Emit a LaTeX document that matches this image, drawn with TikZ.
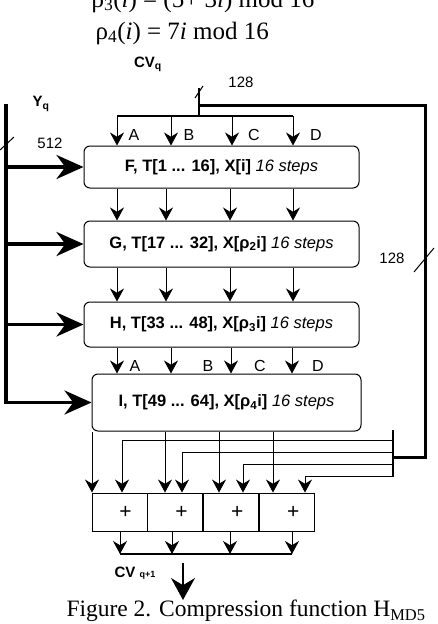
\documentclass[tikz,border=0pt]{standalone}
\usepackage{fontspec}
\setmainfont{Liberation Serif}
\setsansfont{Liberation Sans}
\usetikzlibrary{arrows.meta,positioning}

\tikzset{
    stepbox/.style={draw, line width=1pt, rounded corners=6pt, minimum width=275pt,
        inner sep=0pt, font=\sffamily\bfseries\fontsize{16.5}{18}\selectfont},
    adder/.style={draw, line width=0.9pt, minimum width=55pt, minimum height=38pt,
        inner sep=0pt, font=\sffamily\fontsize{21}{21}\selectfont},
    wire/.style={line width=0.9pt, -{Stealth[length=13pt,width=14pt]}},
    bus/.style={line width=3.5pt},
    busarrow/.style={bus, -{Stealth[length=27pt,width=24pt]}},
    wordlbl/.style={font=\sffamily\fontsize{16}{18}\selectfont},
    busnum/.style={font=\sffamily\fontsize{15}{17}\selectfont},
    cvlbl/.style={font=\sffamily\bfseries\fontsize{15}{17}\selectfont},
    formula/.style={anchor=base west, font=\fontsize{25}{27}\selectfont},
}

\begin{document}
\begin{tikzpicture}[x=1pt, y=-1pt]
    \useasboundingbox (0,0) rectangle (438,624);

    % permutation formulas, first line is cut at the top
    \node[formula] (rho3) at (88,7) {ρ\textsubscript{3}(\textit{i}) = (5+ 3\textit{i}) mod 16};
    \node[formula] (rho4) at (92,39) {ρ\textsubscript{4}(\textit{i}) = 7\textit{i} mod 16};

    % the four rounds
    \node[stepbox, minimum height=42pt] (bF) at (221.5,167)
        {F, T[1 ... 16], X[i] {\mdseries\itshape 16 steps}};
    \node[stepbox, minimum height=46pt] (bG) at (221.5,244)
        {G, T[17 ... 32], X[ρ\textsubscript{2}i] {\mdseries\itshape 16 steps}};
    \node[stepbox, minimum height=45pt] (bH) at (221.5,324.5)
        {H, T[33 ... 48], X[ρ\textsubscript{3}i] {\mdseries\itshape 16 steps}};
    \node[stepbox, minimum width=269pt, minimum height=57pt] (bI) at (226.5,402.5)
        {I, T[49 ... 64], X[ρ\textsubscript{4}i] {\mdseries\itshape 16 steps}};

    % chaining variable in
    \node[cvlbl] (cvq) at (148,64) {CV\textsubscript{q}};
    \node[busnum] (n128a) at (241,82) {128};
    \coordinate (cvin) at (199,88);
    \coordinate (fbtap) at (199,105);
    \coordinate (cvsplit) at (199,116);
    \draw[line width=2pt] (cvin) -- (cvsplit);
    \draw[line width=1pt] (195,98) -- (203,86);
    \draw[line width=1.3pt] (117,116) -- (293,116);
    \foreach \x/\l/\lx in {117/A/134,171/B/189,232/C/254,293/D/316} {
        \draw[wire] (\x,116) -- (\x,0 |- bF.north);
        \node[wordlbl] (top\l) at (\lx,135) {\l};
    }

    % between the rounds
    \foreach \x in {117,166,230,293} {
        \draw[wire] (\x,0 |- bF.south) -- (\x,0 |- bG.north);
        \draw[wire] (\x,0 |- bG.south) -- (\x,0 |- bH.north);
    }
    \foreach \x in {117,171,231,292}
        \draw[wire] (\x,0 |- bH.south) -- (\x,0 |- bI.north);
    \foreach \l/\lx in {A/135,B/208,C/260,D/318}
        \node[wordlbl] (mid\l) at (\lx,366) {\l};

    % message block Y_q
    \node[cvlbl] (yq) at (41,104) {Y\textsubscript{q}};
    \node[busnum] (n512) at (50,143) {512};
    \coordinate (ytop) at (6,104);
    \draw[busarrow] (ytop) |- (bI.west);
    \draw[line width=1pt] (0,150) -- (14,137);
    \foreach \b in {bF,bG,bH}
        \draw[busarrow] (6,0 |- \b.west) -- (\b.west);

    % feed forward of CV_q
    \coordinate (fbtr) at (425,105);
    \coordinate (fbbr) at (425,457);
    \coordinate (fbbar) at (393,457);
    \draw[line width=3pt] (fbtap) -- (fbtr) -- (fbbr) -- (fbbar);
    \draw[line width=1pt] (414,272) -- (434,248);
    \node[busnum] (n128b) at (392,258) {128};
    \draw[line width=2.5pt] (393,430) -- (393,477);

    % word adders
    \node[adder] (add1) at (119.5,512) {\hspace*{12pt}\raisebox{-4pt}{+}};
    \node[adder, right=0pt of add1] (add2) {\hspace*{12pt}\raisebox{-4pt}{+}};
    \node[adder, right=0pt of add2] (add3) {\hspace*{12pt}\raisebox{-4pt}{+}};
    \node[adder, right=0pt of add3] (add4) {\hspace*{12pt}\raisebox{-4pt}{+}};

    \foreach \x in {92,165,219,273}
        \draw[wire] (\x,0 |- bI.south) -- (\x,0 |- add1.north);
    \foreach \y/\x in {440/122,452/182,464/243,476/305}
        \draw[wire] (393,\y) -| (\x,0 |- add1.north);

    % chaining variable out
    \coordinate (outl) at (120,554);
    \coordinate (outr) at (292,554);
    \foreach \x in {120,172,230,292}
        \draw[wire] (\x,0 |- add1.south) -- (\x,0 |- outl);
    \draw[line width=1.3pt] (outl) -- (outr);
    \node[cvlbl] (cvq1) at (135,573)
        {CV {\fontsize{9}{9}\selectfont q+1}};
    \coordinate (outtop) at (183,563);
    \coordinate (outbot) at (183,600);
    \draw[line width=1.8pt, -{Stealth[length=22pt,width=24pt]}] (outtop) -- (outbot);

    \node[font=\fontsize{23.5}{25}\selectfont] (caption) at (246,611)
        {Figure 2. Compression function H\textsubscript{MD5}};
\end{tikzpicture}
\end{document}
